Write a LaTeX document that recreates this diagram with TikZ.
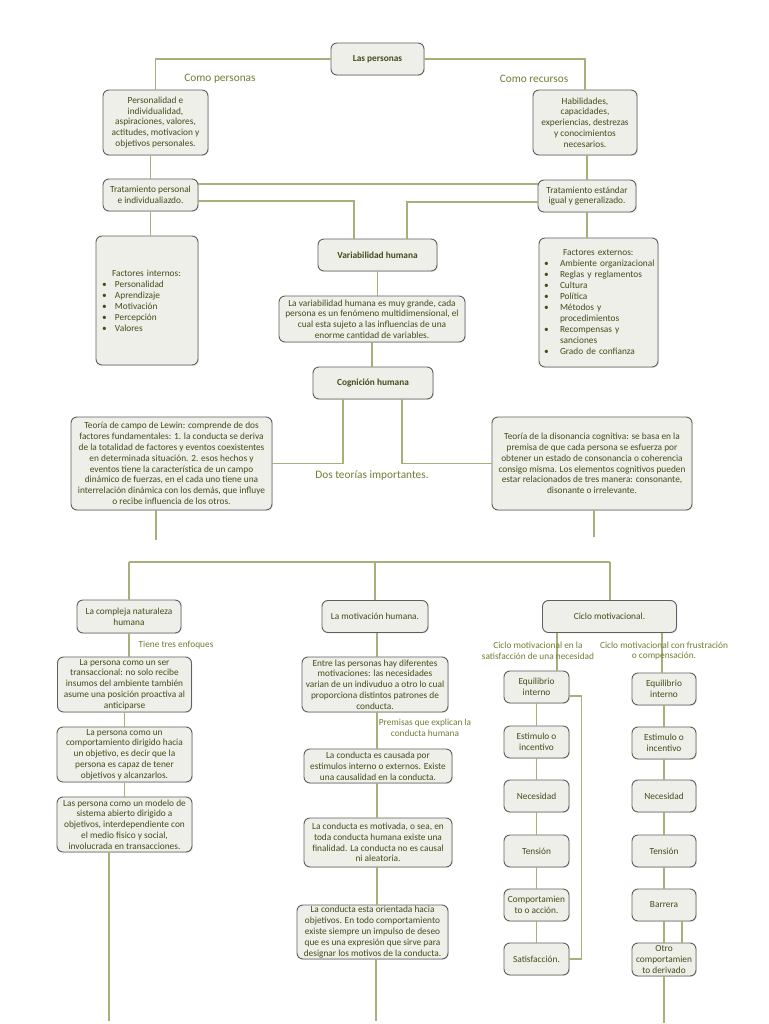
\documentclass[tikz,border=0pt]{standalone}
\usepackage{fontspec}
\setmainfont{Carlito}
\usetikzlibrary{calc,positioning,shadows}
\definecolor{boxfill}{RGB}{239,239,233}
\definecolor{boxdraw}{RGB}{95,95,95}
\definecolor{txtol}{RGB}{64,78,24}
\definecolor{lnol}{RGB}{168,175,122}
\definecolor{lblol}{RGB}{112,126,52}
\newcommand{\blt}[1][9.75pt]{\makebox[#1][l]{\textbullet}}

\begin{document}
\begin{tikzpicture}[x=0.75pt, y=-0.75pt,
bx/.style={draw=boxdraw, fill=boxfill, rounded corners=4.5pt, line width=0.7pt, text=txtol, align=center, inner sep=1pt, font=\fontsize{7}{8.1}\selectfont, drop shadow={opacity=0.2, shadow xshift=0.6pt, shadow yshift=-0.6pt}},
hd/.style={bx, font=\fontsize{7}{8.1}\selectfont\bfseries},
sz/.style 2 args={minimum width=#1*0.75pt, minimum height=#2*0.75pt},
myln/.style={draw=lnol, line width=1.1pt},
lbl/.style={text=lblol, font=\fontsize{8.5}{10}\selectfont, inner sep=0pt},
sml/.style={text=lblol, align=center, font=\fontsize{7}{8.1}\selectfont, inner sep=0pt}
]
\fill[white] (0,0) rectangle (768,1024);
\useasboundingbox (0,0) rectangle (768,1024);

% upper part
\node[hd, sz={93}{32}] (lp) at (377.5,59) {Las personas};
\node[bx, sz={105}{65}] (pers) at (155.5,122.5) {Personalidad e\\individualidad,\\aspiraciones, valores,\\actitudes, motivacion y\\objetivos personales.};
\node[bx, sz={104}{65}] (habil) at (585,122.5) {Habilidades,\\capacidades,\\experiencias, destrezas\\y conocimientos\\necesarios.};
\node[bx, sz={95}{32}] (tpers) at (150.5,195) {Tratamiento personal\\e individualiazdo.};
\node[bx, sz={98}{32}] (testd) at (587,196) {Tratamiento estándar\\igual y generalizado.};
\node[bx, sz={102}{129}, text width=67.5pt, inner xsep=4.5pt, align=left, font=\fontsize{7}{8.25}\selectfont] (fint) at (147,300.5) {\mbox{\hspace*{7.5pt}Factores internos:}\\
\mbox{\blt Personalidad}\\
\mbox{\blt Aprendizaje}\\
\mbox{\blt Motivación}\\
\mbox{\blt Percepción}\\
\mbox{\blt Valores}};
\node[bx, sz={119}{129}, text width=81.75pt, inner xsep=3.75pt, align=left, font=\fontsize{7}{8.25}\selectfont] (fext) at (598.5,302.5) {\mbox{\hspace*{14.25pt}Factores externos:}\\
\mbox{\blt[12pt]Ambiente organizacional}\\
\mbox{\blt[12pt]Reglas y reglamentos}\\
\mbox{\blt[12pt]Cultura}\\
\mbox{\blt[12pt]Política}\\
\mbox{\blt[12pt]Métodos y}\\ \mbox{\hspace*{12pt}procedimientos}\\
\mbox{\blt[12pt]Recompensas y}\\ \mbox{\hspace*{12pt}sanciones}\\
\mbox{\blt[12pt]Grado de confianza}};
\node[hd, sz={119}{32}] (varh) at (377.5,255) {Variabilidad humana};
\node[bx, sz={186}{46}] (vartx) at (372,319) {La variabilidad humana es muy grande, cada\\persona es un fenómeno multidimensional, el\\cual esta sujeto a las influencias de una\\enorme cantidad de variables.};
\node[hd, sz={120}{32}] (cogn) at (373,383) {Cognición humana};
\node[bx, sz={201}{93}] (lewin) at (171.5,463.5) {Teoría de campo de Lewin: comprende de dos\\factores fundamentales: 1. la conducta se deriva\\de la totalidad de factores y eventos coexistentes\\en determinada situación. 2. esos hechos y\\eventos tiene la característica de un campo\\dinámico de fuerzas, en el cada uno tiene una\\interrelación dinámica con los demás, que influye\\o recibe influencia de los otros.};
\node[bx, sz={200}{93}] (disn) at (592,463.5) {Teoría de la disonancia cognitiva: se basa en la\\premisa de que cada persona se esfuerza por\\obtener un estado de consonancia o coherencia\\consigo misma. Los elementos cognitivos pueden\\estar relacionados de tres manera: consonante,\\disonante o irrelevante.};

\draw[myln] (lp.west) -| (pers.north);
\draw[myln] (lp.east) -| (habil.north);
\draw[myln] (tpers.north) -- (tpers.north |- pers.south);
\draw[myln] (testd.north) -- (testd.north |- habil.south);
\draw[myln] ($(tpers.east)+(0,-11)$) coordinate (t1) -- (t1 -| testd.west);
\draw[myln] ($(tpers.east)+(0,6)$) -| ($(varh.north)+(-23.5,0)$);
\draw[myln] ($(testd.west)+(0,6)$) -| ($(varh.north)+(29.5,0)$);
\foreach \i/\j in {tpers/fint,testd/fext,varh/vartx,vartx/cogn}{\draw[myln] (\i.south) -- (\i.south |- \j.north);}
\draw[myln] ($(cogn.south)+(-30,0)$) |- (lewin.east);
\draw[myln] ($(cogn.south)+(29,0)$) |- (disn.west);
\coordinate (lwend) at (156,540);
\coordinate (dsend) at (594,537);
\draw[myln] (lwend |- lewin.south) -- (lwend);
\draw[myln] (dsend |- disn.south) -- (dsend);

\node[lbl] (cper) at (220,79) {Como personas};
\node[lbl] (crec) at (534,79) {Como recursos};
\node[lbl] (dost) at (372,476) {Dos teorías importantes.};

% lower part
\node[bx, sz={104}{33}] (cnat) at (129,616.5) {La compleja naturaleza\\humana};
\node[bx, sz={106}{32}] (motiv) at (375,616.5) {La motivación humana.};
\node[bx, sz={134}{32}] (ciclo) at (609.5,616.5) {Ciclo motivacional.};

\coordinate (bl) at (129,562);
\coordinate (bm) at (375,562);
\coordinate (br) at (610,562);
\draw[myln] (bl) -- (br);
\foreach \c/\n in {bl/cnat,bm/motiv,br/ciclo}{\draw[myln] (\c) -- (\c |- \n.north);}

\node[bx, sz={134}{55}] (per1) at (124.5,684.5) {La persona como un ser\\transaccional: no solo recibe\\insumos del ambiente también\\asume una posición proactiva al\\anticiparse};
\node[bx, sz={135}{55}] (per2) at (124.5,754.5) {La persona como un\\comportamiento dirigido hacia\\un objetivo, es decir que la\\persona es capaz de tener\\objetivos y alcanzarlos.};
\node[bx, sz={135}{55}] (per3) at (124.5,824.5) {Las persona como un modelo de\\sistema abierto dirigido a\\objetivos, interdependiente con\\el medio fisico y social,\\involucrada en transacciones.};
\draw[myln] (cnat.south) -- (cnat.south |- per1.north);
\foreach \i/\j in {per1/per2,per2/per3}{\draw[myln] (\i.south) -- (\i.south |- \j.north);}
\coordinate (pend) at (109,1021);
\draw[myln] (pend |- per3.south) -- (pend);
\node[sml] (tres) at (176,645) {Tiene tres enfoques};

\node[bx, sz={146}{55}] (mot1) at (375,684.5) {Entre las personas hay diferentes\\motivaciones: las necesidades\\varian de un indivuduo a otro lo cual\\proporciona distintos patrones de\\conducta.};
\node[bx, sz={148}{34}] (mot2) at (378,766) {La conducta es causada por\\estimulos interno o externos. Existe\\una causalidad en la conducta.};
\node[bx, sz={148}{49}] (mot3) at (378,842.5) {La conducta es motivada, o sea, en\\toda conducta humana existe una\\finalidad. La conducta no es causal\\ni aleatoria.};
\node[bx, sz={151}{54}] (mot4) at (372.5,932) {La conducta esta orientada hacia\\objetivos. En todo comportamiento\\existe siempre un impulso de deseo\\que es una expresión que sirve para\\designar los motivos de la conducta.};
\coordinate (mx) at (377,0);
\foreach \i/\j in {motiv/mot1,mot1/mot2,mot2/mot3,mot3/mot4}{\draw[myln] (mx |- \i.south) -- (mx |- \j.north);}
\coordinate (mend) at (376,1021);
\draw[myln] (mend |- mot4.south) -- (mend);
\node[sml] (prem) at (425,728) {Premisas que explican la\\conducta humana};

% ciclo motivacional
\node[bx, sz={65}{32}] (a1) at (536.5,687) {Equilibrio\\interno};
\node[bx, sz={65}{32}] (a2) at (536.5,742) {Estimulo o\\incentivo};
\node[bx, sz={65}{32}] (a3) at (536.5,796) {Necesidad};
\node[bx, sz={65}{32}] (a4) at (536.5,851) {Tensión};
\node[bx, sz={65}{32}] (a5) at (536.5,905) {Comportamien\\to o acción.};
\node[bx, sz={65}{32}] (a6) at (536.5,959) {Satisfacción.};
\node[bx, sz={64}{32}] (b1) at (664,689) {Equilibrio\\interno};
\node[bx, sz={64}{32}] (b2) at (664,743) {Estimulo o\\incentivo};
\node[bx, sz={64}{32}] (b3) at (664,796) {Necesidad};
\node[bx, sz={64}{32}] (b4) at (664,851) {Tensión};
\node[bx, sz={64}{32}] (b5) at (664,905) {Barrera};
\node[bx, sz={64}{33}] (b6) at (664,959.5) {Otro\\comportamien\\to derivado};

\draw[myln] ($(ciclo.south)+(-52.5,0)$) coordinate (ca) -- (ca |- a1.north);
\draw[myln] ($(ciclo.south)+(52.5,0)$) coordinate (cb) -- (cb |- b1.north);
\foreach \i/\j in {a1/a2,a2/a3,a3/a4,a4/a5,a5/a6,b1/b2,b2/b3,b3/b4,b4/b5,b5/b6}{\draw[myln] (\i.south) -- (\i.south |- \j.north);}
\draw[myln] ($(a1.east)+(0,9)$) -- ++(12,0) |- (a6.east);
\draw[myln] ($(b5.south)+(18,0)$) -- ($(b6.north)+(18,0)$);
\coordinate (bend) at (664,1023);
\draw[myln] (b6.south) -- (bend);

\node[sml] (csat) at (538,651) {Ciclo motivacional en la\\satisfacción de una necesidad};
\node[sml] (cfru) at (664,651) {Ciclo motivacional con frustración\\o compensación.};
\end{tikzpicture}
\end{document}
